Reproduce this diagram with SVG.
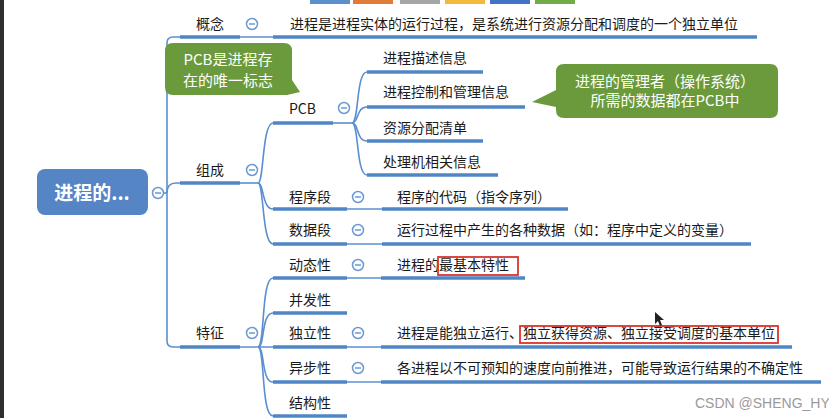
<svg xmlns="http://www.w3.org/2000/svg" width="829" height="418" viewBox="0 0 829 418">
<style>
text{font-family:"Noto Sans CJK SC","Noto Sans",sans-serif;font-size:14px;fill:#1a1a1a}
.ul{stroke:#4f86c6;stroke-width:3.5;fill:none}
.cn{stroke:#5b8fd0;stroke-width:1.6;fill:none}
.call{fill:#6b9a3c}
.ct{fill:#fff;font-size:15px}
.red{fill:none;stroke:#d9342b;stroke-width:1.8}
</style>
<defs>
<g id="tog"><circle r="5.5" fill="#fff" stroke="#6b98d3" stroke-width="1.5"/><line x1="-3" y1="0" x2="3" y2="0" stroke="#6b98d3" stroke-width="1.5"/></g>
</defs>
<rect width="829" height="418" fill="#fff"/>
<rect x="0" y="0" width="4" height="418" fill="#2e2e2e"/>
<g id="topbar">
<rect x="310" y="0" width="40" height="4" fill="#5b8fcb"/>
<rect x="353" y="0" width="40" height="4" fill="#e07b3c"/>
<rect x="400" y="0" width="40" height="4" fill="#a5a5a5"/>
<rect x="445" y="0" width="40" height="4" fill="#f2b93b"/>
<rect x="490" y="0" width="40" height="4" fill="#4472c4"/>
<rect x="535" y="0" width="40" height="4" fill="#70ad47"/>
</g>
<g id="connectors">
<path class="cn" d="M164,193 H167"/>
<path class="cn" d="M180,37 H173 Q167,37 167,43 V341 Q167,347 173,347 H180"/>
<path class="cn" d="M167,193 Q167,183 176,183 H180"/>
<path class="cn" d="M240,37 H273"/>
<path class="cn" d="M240,183 H258"/>
<path class="cn" d="M258,183 C264,183 262,123 273,123"/>
<path class="cn" d="M258,183 C264,183 262,209 273,209"/>
<path class="cn" d="M258,183 C264,183 262,244 273,244"/>
<path class="cn" d="M333,123 H352"/>
<path class="cn" d="M352,123 C359,123 356,72 367,72"/>
<path class="cn" d="M352,123 C359,123 356,107 367,107"/>
<path class="cn" d="M352,123 C359,123 356,141 367,141"/>
<path class="cn" d="M352,123 C359,123 356,175 367,175"/>
<path class="cn" d="M347,209 H382"/>
<path class="cn" d="M347,244 H382"/>
<path class="cn" d="M240,347 H273"/>
<path class="cn" d="M258,347 C265,347 261,278 273,278"/>
<path class="cn" d="M258,347 C265,347 261,313 273,313"/>
<path class="cn" d="M258,347 C265,347 261,382 273,382"/>
<path class="cn" d="M258,347 C265,347 261,416 273,416"/>
<path class="cn" d="M347,278 H381"/>
<path class="cn" d="M347,347 H381"/>
<path class="cn" d="M347,382 H381"/>
</g>
<g id="root">
<rect x="37" y="169" width="111" height="46" rx="8" fill="#5585c5"/>
<text x="92" y="200" text-anchor="middle" style="fill:#fff;font-size:19px;font-weight:bold">进程的...</text>
<use href="#tog" x="158" y="193"/>
</g>
<g id="n-gainian">
<path class="ul" d="M180,37 H240"/>
<text x="196" y="29">概念</text>
<use href="#tog" x="252" y="24"/>
</g>
<g id="n-gainian-c">
<path class="ul" d="M273,37 H757"/>
<text x="290" y="29">进程是进程实体的运行过程，是系统进行资源分配和调度的一个独立单位</text>
</g>
<g id="n-zucheng">
<path class="ul" d="M180,183 H240"/>
<text x="196" y="175">组成</text>
<use href="#tog" x="252" y="170"/>
</g>
<g id="n-pcb">
<path class="ul" d="M273,123 H333"/>
<text x="289" y="114">PCB</text>
<use href="#tog" x="344" y="108"/>
</g>
<g id="n-pcb1"><path class="ul" d="M367,72 H483"/><text x="383" y="63">进程描述信息</text></g>
<g id="n-pcb2"><path class="ul" d="M367,107 H525"/><text x="383" y="97">进程控制和管理信息</text></g>
<g id="n-pcb3"><path class="ul" d="M367,141 H483"/><text x="383" y="133">资源分配清单</text></g>
<g id="n-pcb4"><path class="ul" d="M367,175 H498"/><text x="383" y="167">处理机相关信息</text></g>
<g id="n-cxd">
<path class="ul" d="M273,209 H347"/>
<text x="289" y="202">程序段</text>
<use href="#tog" x="358" y="197"/>
</g>
<g id="n-cxd-c"><path class="ul" d="M382,209 H568"/><text x="397" y="202">程序的代码（指令序列）</text></g>
<g id="n-sjd">
<path class="ul" d="M273,244 H347"/>
<text x="289" y="235">数据段</text>
<use href="#tog" x="358" y="230"/>
</g>
<g id="n-sjd-c"><path class="ul" d="M382,244 H751"/><text x="397" y="235">运行过程中产生的各种数据（如：程序中定义的变量）</text></g>
<g id="n-tezheng">
<path class="ul" d="M180,347 H240"/>
<text x="196" y="338">特征</text>
<use href="#tog" x="252" y="333"/>
</g>
<g id="n-dtx">
<path class="ul" d="M273,278 H347"/>
<text x="289" y="270">动态性</text>
<use href="#tog" x="358" y="265"/>
</g>
<g id="n-dtx-c">
<path class="ul" d="M381,278 H525"/>
<text x="397" y="270">进程的最基本特性</text>
<rect class="red" x="438" y="257" width="80" height="18"/>
</g>
<g id="n-bfx"><path class="ul" d="M273,313 H347"/><text x="289" y="305">并发性</text></g>
<g id="n-dlx">
<path class="ul" d="M273,347 H347"/>
<text x="289" y="338">独立性</text>
<use href="#tog" x="358" y="333"/>
</g>
<g id="n-dlx-c">
<path class="ul" d="M381,347 H792"/>
<text x="397" y="338">进程是能独立运行、独立获得资源、独立接受调度的基本单位</text>
<rect class="red" x="520" y="326" width="258" height="17"/>
</g>
<g id="n-ybx">
<path class="ul" d="M273,382 H347"/>
<text x="289" y="373">异步性</text>
<use href="#tog" x="358" y="368"/>
</g>
<g id="n-ybx-c"><path class="ul" d="M381,382 H821"/><text x="397" y="373">各进程以不可预知的速度向前推进，可能导致运行结果的不确定性</text></g>
<g id="n-jgx"><path class="ul" d="M273,416 H347"/><text x="289" y="408">结构性</text></g>
<g id="callout1">
<path class="call" d="M173,43 H284 Q292,43 292,51 V80 L300,92 L287,95 H173 Q165,95 165,87 V51 Q165,43 173,43 Z"/>
<text class="ct" x="228" y="65" text-anchor="middle">PCB是进程存</text>
<text class="ct" x="228" y="86" text-anchor="middle">在的唯一标志</text>
</g>
<g id="callout2">
<path class="call" d="M564,64 H770 Q778,64 778,72 V110 Q778,118 770,118 H564 Q556,118 556,110 V107 L532,102 L556,90 V72 Q556,64 564,64 Z"/>
<text class="ct" x="665" y="87" text-anchor="middle">进程的管理者（操作系统）</text>
<text class="ct" x="665" y="106" text-anchor="middle">所需的数据都在PCB中</text>
</g>
<text x="695" y="408" style="fill:#9a9a9a;font-size:14px;font-family:'Liberation Sans',sans-serif">CSDN @SHENG_HY</text>
<path d="M655,312 V324 L658,321 L660,326 L662,325 L660,320 L664,320 Z" fill="#222"/>
</svg>
